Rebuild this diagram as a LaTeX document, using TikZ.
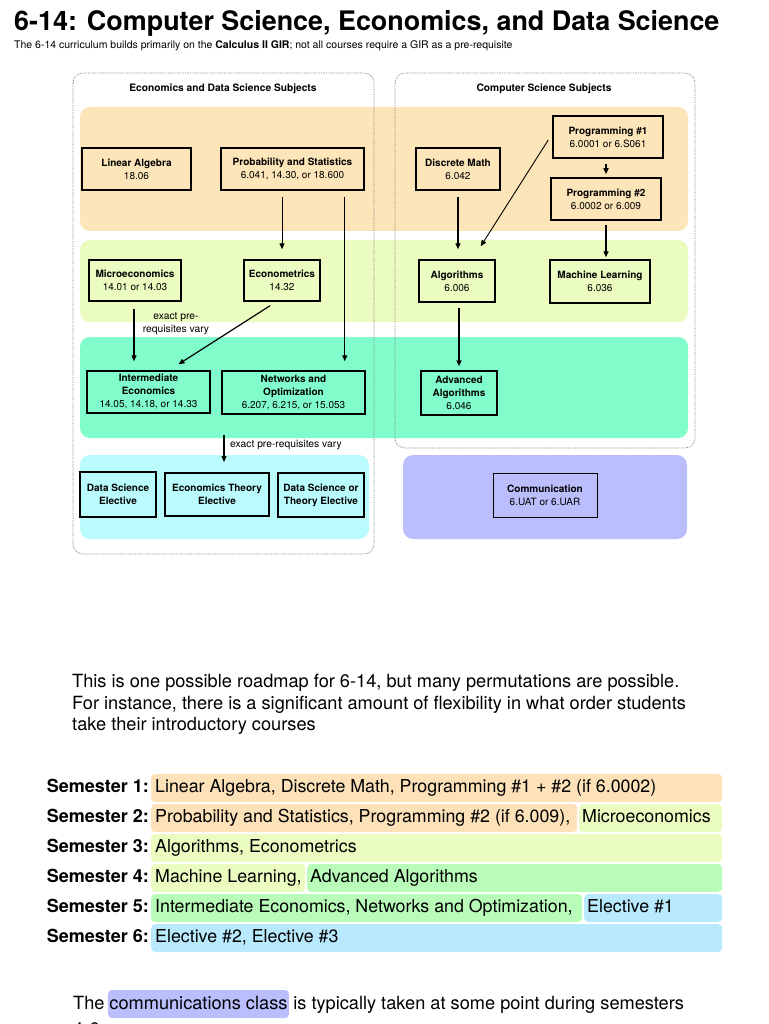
\documentclass[tikz,border=0pt]{standalone}
\usepackage{fontspec}
\setmainfont{TeX Gyre Heros}
\usetikzlibrary{arrows.meta,positioning}
\definecolor{bandO}{HTML}{FDE5BA}
\definecolor{bandY}{HTML}{EBFCC0}
\definecolor{bandM}{HTML}{80FDCB}
\definecolor{bandC}{HTML}{BAFCFD}
\definecolor{bandP}{HTML}{BBBEFD}
\definecolor{semO}{HTML}{FCE1B9}
\definecolor{semY}{HTML}{EBFCC0}
\definecolor{semG}{HTML}{B9FCB9}
\definecolor{semB}{HTML}{B9E9FC}
\tikzset{
  band/.style={rounded corners=10pt, draw=none},
  group/.style={draw=gray, line width=0.7pt, dash pattern=on 0.8pt off 0.9pt, rounded corners=10pt},
  course/.style={draw, line width=1.5pt, align=center, inner sep=0pt, font=\fontsize{10}{13}\selectfont},
  head/.style={font=\bfseries\fontsize{10.2}{12}\selectfont},
  arr/.style={line width=1.4pt, -{Triangle[length=6pt,width=5pt]}},
  tarr/.style={line width=0.9pt, -{Triangle[length=6pt,width=5pt]}},
  note/.style={font=\fontsize{10.3}{13}\selectfont, align=center, inner sep=0pt},
  semlab/.style={anchor=east, font=\bfseries\fontsize{18}{20}\selectfont, inner sep=0pt, text height=13pt, text depth=4pt},
  seg/.style={anchor=west, rounded corners=4pt, text height=13pt, text depth=4pt, inner ysep=5.5pt, inner xsep=0pt, font=\fontsize{17.8}{20}\selectfont},
  body/.style={font=\fontsize{18.2}{21.5}\selectfont, inner sep=0pt}
}
\begin{document}
\begin{tikzpicture}[x=1pt,y=-1pt]
\useasboundingbox (0,0) rectangle (768,1024);
% title
\node[anchor=base west, inner sep=0pt, font=\bfseries\fontsize{26.9}{30}\selectfont] (title) at (14,31) {6-14: Computer Science, Economics, and Data Science};
\node[anchor=base west, inner sep=0pt, font=\fontsize{10.5}{12}\selectfont] (sub) at (14,49) {The 6-14 curriculum builds primarily on the \textbf{Calculus II GIR}; not all courses require a GIR as a pre-requisite};
% bands
\fill[band, bandO] (80,107) rectangle (688,231);
\fill[band, bandY] (80,240) rectangle (688,322);
\fill[band, bandM] (80,337) rectangle (688,438);
\fill[band, bandC] (80,455) rectangle (369,539);
\fill[band, bandP] (403,455) rectangle (687,539);
% groups
\draw[group] (73,73) rectangle (374,554);
\draw[group] (395,73) rectangle (695,448);
\node[head] (h1) at (223,89) {Economics and Data Science Subjects};
\node[head] (h2) at (544,89) {Computer Science Subjects};
% courses
\node[course, minimum width=109pt, minimum height=42pt] (la) at (136.5,169) {\textbf{Linear Algebra}\\18.06};
\node[course, minimum width=143pt, minimum height=42pt] (ps) at (292.5,169) {\textbf{Probability and Statistics}\\6.041, 14.30, or 18.600};
\node[course, minimum width=84pt, minimum height=42pt] (dm) at (458,169) {\textbf{Discrete Math}\\6.042};
\node[course, minimum width=110pt, minimum height=42pt] (p1) at (608,137) {\textbf{Programming \#1}\\6.0001 or 6.S061};
\node[course, minimum width=110pt, minimum height=42pt] (p2) at (606,199) {\textbf{Programming \#2}\\6.0002 or 6.009};
\node[course, minimum width=92pt, minimum height=41pt] (mi) at (135,280.5) {\textbf{Microeconomics}\\14.01 or 14.03};
\node[course, minimum width=76pt, minimum height=41pt] (ec) at (282,280.5) {\textbf{Econometrics}\\14.32};
\node[course, minimum width=76pt, minimum height=42pt] (al) at (457,281) {\textbf{Algorithms}\\6.006};
\node[course, minimum width=100pt, minimum height=43pt] (ml) at (600,281.5) {\textbf{Machine Learning}\\6.036};
\node[course, minimum width=123pt, minimum height=42pt] (ie) at (148.5,392) {\textbf{Intermediate}\\\textbf{Economics}\\14.05, 14.18, or 14.33};
\node[course, minimum width=143pt, minimum height=43pt] (no) at (293.5,392.5) {\textbf{Networks and}\\\textbf{Optimization}\\6.207, 6.215, or 15.053};
\node[course, minimum width=76pt, minimum height=44pt] (aa) at (459,393) {\textbf{Advanced}\\\textbf{Algorithms}\\6.046};
\node[course, minimum width=76pt, minimum height=45pt] (dse) at (118,494.5) {\textbf{Data Science}\\\textbf{Elective}};
\node[course, minimum width=104pt, minimum height=43pt] (ete) at (217,494.5) {\textbf{Economics Theory}\\\textbf{Elective}};
\node[course, minimum width=86pt, minimum height=44pt] (dst) at (321,495) {\textbf{Data Science or}\\\textbf{Theory Elective}};
\node[course, line width=1pt, minimum width=104pt, minimum height=44pt] (cm) at (545,495) {\textbf{Communication}\\6.UAT or 6.UAR};
% arrows
\draw[tarr, shorten <=6pt, shorten >=10pt] (ps.south -| ec.north) -- (ec.north);
\coordinate (psR) at ([xshift=-20pt]ps.south east);
\draw[arr, shorten <=6pt, shorten >=9pt] (psR) -- (psR |- no.north);
\draw[arr, shorten <=6pt, shorten >=10pt] (dm.south) -- (dm.south |- al.north);
\coordinate (p1s) at ([xshift=-4pt,yshift=-3pt]p1.west);
\coordinate (alT) at ([xshift=-15pt,yshift=13pt]al.north east);
\draw[tarr] (p1s) -- (alT);
\draw[arr, shorten <=5pt, shorten >=3pt] (p2.north |- p1.south) -- (p2.north);
\draw[arr, shorten <=4pt, shorten >=2pt] (p2.south) -- (p2.south |- ml.north);
\draw[arr, shorten <=7pt, shorten >=9pt] ([xshift=-1pt]mi.south) -- ([xshift=-1pt]mi.south |- ie.north);
\coordinate (ecS) at ([xshift=-12pt,yshift=-4pt]ec.south);
\coordinate (ieT) at ([xshift=30pt,yshift=6pt]ie.north);
\draw[line width=1.2pt, -{Triangle[length=6pt,width=5pt]}] (ecS) -- (ieT);
\draw[arr, shorten <=5pt, shorten >=4pt] ([xshift=2pt]al.south) -- ([xshift=2pt]al.south |- aa.north);
\coordinate (elA) at (224,435);
\coordinate (elB) at (224,462);
\draw[tarr, line width=1.1pt] (elA) -- (elB);
\node[note] (n1) at (176,323.5) {exact pre-\\requisites vary};
\node[note, anchor=west] (n2) at (230,445) {exact pre-requisites vary};
% paragraph
\node[body, anchor=base west] (pl1) at (72,687) {This is one possible roadmap for 6-14, but many permutations are possible.};
\node[body, anchor=base west] (pl2) at (72,709) {For instance, there is a significant amount of flexibility in what order students};
\node[body, anchor=base west] (pl3) at (72,730.5) {take their introductory courses};
% semesters
\node[semlab] (s1) at (149,788) {Semester 1:};
\node[semlab] (s2) at (149,818) {Semester 2:};
\node[semlab] (s3) at (149,848) {Semester 3:};
\node[semlab] (s4) at (149,878) {Semester 4:};
\node[semlab] (s5) at (149,908) {Semester 5:};
\node[semlab] (s6) at (149,938) {Semester 6:};
\node[seg, fill=semO] (r1) at (151,788) {\makebox[571pt][l]{\hspace{4pt}Linear Algebra, Discrete Math, Programming \#1 + \#2 (if 6.0002)}};
\node[seg, fill=semO] (r2a) at (151,818) {\makebox[426pt][l]{\hspace{4pt}Probability and Statistics, Programming \#2 (if 6.009),}};
\node[seg, fill=semY] (r2b) at (579,818) {\makebox[143pt][l]{\hspace{3pt}Microeconomics}};
\node[seg, fill=semY] (r3) at (151,848) {\makebox[571pt][l]{\hspace{4pt}Algorithms, Econometrics}};
\node[seg, fill=semY] (r4a) at (151,878) {\makebox[154pt][l]{\hspace{4pt}Machine Learning,}};
\node[seg, fill=semG] (r4b) at (307,878) {\makebox[415pt][l]{\hspace{3pt}Advanced Algorithms}};
\node[seg, fill=semG] (r5a) at (151,908) {\makebox[431pt][l]{\hspace{4pt}Intermediate Economics, Networks and Optimization,}};
\node[seg, fill=semB] (r5b) at (584,908) {\makebox[138pt][l]{\hspace{3pt}Elective \#1}};
\node[seg, fill=semB] (r6) at (151,938) {\makebox[571pt][l]{\hspace{4pt}Elective \#2, Elective \#3}};
% last line
\node[body, anchor=base west] (t1) at (73,1009) {The};
\node[anchor=base west, fill=bandP, rounded corners=4pt, inner xsep=1.5pt, inner ysep=0pt, font=\fontsize{18.2}{21.5}\selectfont, text depth=9pt, text height=19pt] (t2) at ([xshift=3pt]t1.base east) {communications class};
\node[body, anchor=base west] (t3) at ([xshift=4pt]t2.base east) {is typically taken at some point during semesters};
\node[body, anchor=base west] (t4) at (73,1035) {4-6};
\end{tikzpicture}
\end{document}
